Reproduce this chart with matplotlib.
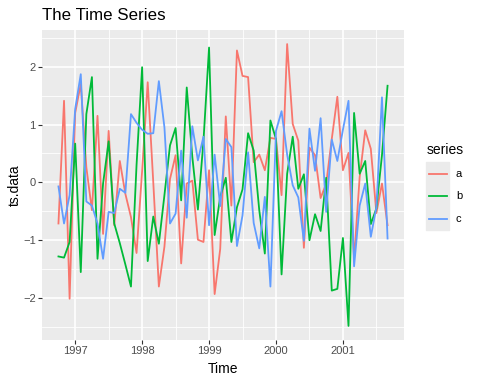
import numpy as np
import matplotlib
matplotlib.use("Agg")
import matplotlib.pyplot as plt
from matplotlib.lines import Line2D
from matplotlib.patches import Rectangle

plt.rcParams['font.family'] = ['Liberation Sans', 'DejaVu Sans']

# monthly series, Oct 1996 .. Sep 2001
start = 1996 + 9 / 12
n_months = 60
time = start + np.arange(n_months) / 12

a = [-0.71, 1.41, -2.01, 1.20, 1.70, 0.26, -0.48, 1.15, -0.89, 0.89,
     -0.74, 0.37, -0.20, -0.60, -1.22, 0.20, 1.73, 0.00, -1.80, -1.11,
     0.06, 0.47, -1.40, -0.02, 0.03, -0.99, -1.03, 0.21, -1.93, -1.15,
     1.14, -0.40, 2.28, 1.84, 1.82, 0.35, 0.48, 0.21, 0.77, 0.75,
     -0.22, 2.39, 1.01, 0.72, -1.13, 0.60, 0.47, -0.27, -0.02, 0.75,
     1.48, 0.21, 0.51, -1.32, 0.09, 0.90, 0.58, -0.53, -0.02, -0.74]
b = [-1.28, -1.30, -1.03, 0.67, -1.55, 1.18, 1.82, -1.32, -0.02, 0.71,
     -0.71, -1.05, -1.42, -1.80, 0.30, 1.99, -1.36, -0.59, -1.06, -0.22,
     0.64, 0.94, -0.31, 1.64, 0.44, -0.47, 0.72, 2.33, -0.91, -0.25,
     0.08, -1.03, -0.43, -0.12, 0.85, 0.55, -0.48, -1.23, 1.07, 0.75,
     -1.59, 0.15, 0.79, -0.11, 0.14, -1.00, -0.55, -0.84, 0.08, -1.87,
     -1.84, -0.96, -2.48, 1.20, 0.15, 0.37, -0.72, -0.45, 0.47, 1.67]
c = [-0.07, -0.71, -0.22, 1.27, 1.87, -0.33, -0.40, -0.71, -1.32, -0.51,
     -0.53, -0.11, -0.18, 1.18, 1.03, 0.91, 0.84, 0.85, 1.75, 0.95,
     -0.71, -0.54, 0.55, -0.61, 0.97, 0.38, 0.79, -0.74, 0.48, -0.41,
     0.75, 0.61, -1.10, -0.57, 0.52, -0.70, -1.14, -0.25, -1.80, 0.89,
     1.23, 0.48, -0.05, -0.26, -1.01, 0.93, 0.20, 1.11, -0.51, 0.74,
     0.37, 0.91, 1.41, -1.45, -0.40, -0.02, -0.94, -0.43, 1.47, -0.97]

series_names = ['a', 'b', 'c']
colors = ['#F8766D', '#00BA38', '#619CFF']
x_ticks = [1997, 1998, 1999, 2000, 2001]
y_ticks = [-2, -1, 0, 1, 2]

fig = plt.figure(figsize=(4.8, 3.84), dpi=100)
ax = fig.add_axes([42 / 480, 1 - 340 / 384, 362 / 480, 310 / 384])
ax.set_facecolor('#EBEBEB')

for vals, col in zip([a, b, c], colors):
    ax.plot(time, vals, color=col, lw=1.3, zorder=3)

ax.margins(x=0.05, y=0.05)
x0, x1 = ax.get_xlim()
y0, y1 = ax.get_ylim()

ax.set_xticks(x_ticks)
ax.set_yticks(y_ticks)
ax.set_xticks([v + 0.5 for v in [1996] + x_ticks], minor=True)
ax.set_yticks([-2.5, -1.5, -0.5, 0.5, 1.5, 2.5], minor=True)
ax.set_xlim(x0, x1)
ax.set_ylim(y0, y1)
ax.grid(which='major', color='white', lw=1.2)
ax.grid(which='minor', color='white', lw=0.6)
ax.set_axisbelow(True)
for s in ax.spines.values():
    s.set_visible(False)
ax.tick_params(which='major', length=2.75, width=0.8, color='#333333',
               labelsize=8, labelcolor='#4D4D4D', pad=1.8)
ax.tick_params(which='minor', length=0)

ax.set_xlabel('Time', fontsize=10, va='center')
ax.set_ylabel('ts.data', fontsize=10, va='center')
ax.xaxis.set_label_coords(0.5, (340 - 369) / 310)
ax.yaxis.set_label_coords((15 - 42) / 362, 0.5)
fig.text(42 / 480, 1 - 15 / 384, 'The Time Series', fontsize=12.2,
         ha='left', va='center')

# legend
fig.text(427 / 480, 1 - 150 / 384, 'series', fontsize=10, ha='left', va='center')
fig.patches.append(Rectangle((426 / 480, 1 - 230 / 384), 23 / 480, 68 / 384,
                             transform=fig.transFigure, color='#EBEBEB',
                             zorder=1))
for k, (name, col) in enumerate(zip(series_names, colors)):
    yk = 1 - (173.5 + 22.8 * k) / 384
    fig.lines.append(Line2D([428.5 / 480, 446.5 / 480], [yk, yk], color=col,
                            lw=1.3, transform=fig.transFigure, zorder=2))
    fig.text(456 / 480, yk, name, fontsize=8, ha='left', va='center')

fig.savefig('out.png', dpi=100)
